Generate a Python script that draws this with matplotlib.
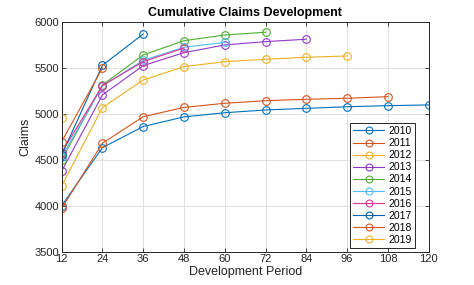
# Cumulative claims development chart
import matplotlib
matplotlib.use("Agg")
import matplotlib.pyplot as plt

plt.rcParams["font.family"] = ["Liberation Sans", "DejaVu Sans"]

# Data
periods = [12, 24, 36, 48, 60, 72, 84, 96, 108, 120]
years = ["2010", "2011", "2012", "2013", "2014", "2015", "2016", "2017", "2018", "2019"]

claims_2010 = [4000, 4630, 4860, 4965, 5010, 5040, 5058, 5075, 5087, 5095]
claims_2011 = [3970, 4678, 4967, 5068, 5113, 5141, 5156, 5167, 5185]
claims_2012 = [4214, 5066, 5366, 5511, 5565, 5591, 5613, 5627]
claims_2013 = [4375, 5203, 5522, 5663, 5747, 5783, 5809]
claims_2014 = [4497, 5312, 5638, 5793, 5855, 5885]
claims_2015 = [4530, 5300, 5580, 5722, 5775]
claims_2016 = [4577, 5305, 5566, 5712]
claims_2017 = [4550, 5525, 5866]
claims_2018 = [4696, 5495]
claims_2019 = [4950]

all_claims = [claims_2010, claims_2011, claims_2012, claims_2013, claims_2014,
              claims_2015, claims_2016, claims_2017, claims_2018, claims_2019]

colors = ["#0072BD", "#D95319", "#EDB120", "#9438C8", "#4DAF30",
          "#4DBEEE", "#E0309A", "#0066B0", "#D95319", "#EDB120"]

fig = plt.figure(figsize=(4.74, 2.85), dpi=100)
ax = fig.add_axes([0.130, 0.117, 0.7745, 0.807])

for yr, vals, c in zip(years, all_claims, colors):
    ax.plot(periods[:len(vals)], vals, marker="o", markersize=5.5,
            markerfacecolor="none", markeredgewidth=0.8, linewidth=0.8,
            color=c, label=yr)

ax.set_xlim(12, 120)
ax.set_ylim(3500, 6000)
ax.set_xticks(periods)
ax.set_yticks([3500, 4000, 4500, 5000, 5500, 6000])
ax.tick_params(direction="in", top=True, right=True, labelsize=8,
               length=3, width=0.6, colors="#262626", pad=2)
ax.grid(True, color="#dcdcdc", linewidth=0.6)
ax.set_axisbelow(True)
for s in ax.spines.values():
    s.set_color("#262626")
    s.set_linewidth(0.7)

ax.set_title("Cumulative Claims Development", fontsize=9, fontweight="bold", pad=4)
ax.set_xlabel("Development Period", fontsize=9, labelpad=1, color="#262626")
ax.set_ylabel("Claims", fontsize=9, labelpad=2, color="#262626")

leg = ax.legend(loc="lower right", bbox_to_anchor=(0.963, 0.016), fontsize=7.5,
                fancybox=False, framealpha=1, edgecolor="#262626",
                handlelength=3.0, labelspacing=0.2, borderpad=0.3,
                handletextpad=0.4, borderaxespad=0.0, markerscale=0.9)
leg.get_frame().set_linewidth(0.7)

plt.savefig("out.png", dpi=100)
plt.close()
